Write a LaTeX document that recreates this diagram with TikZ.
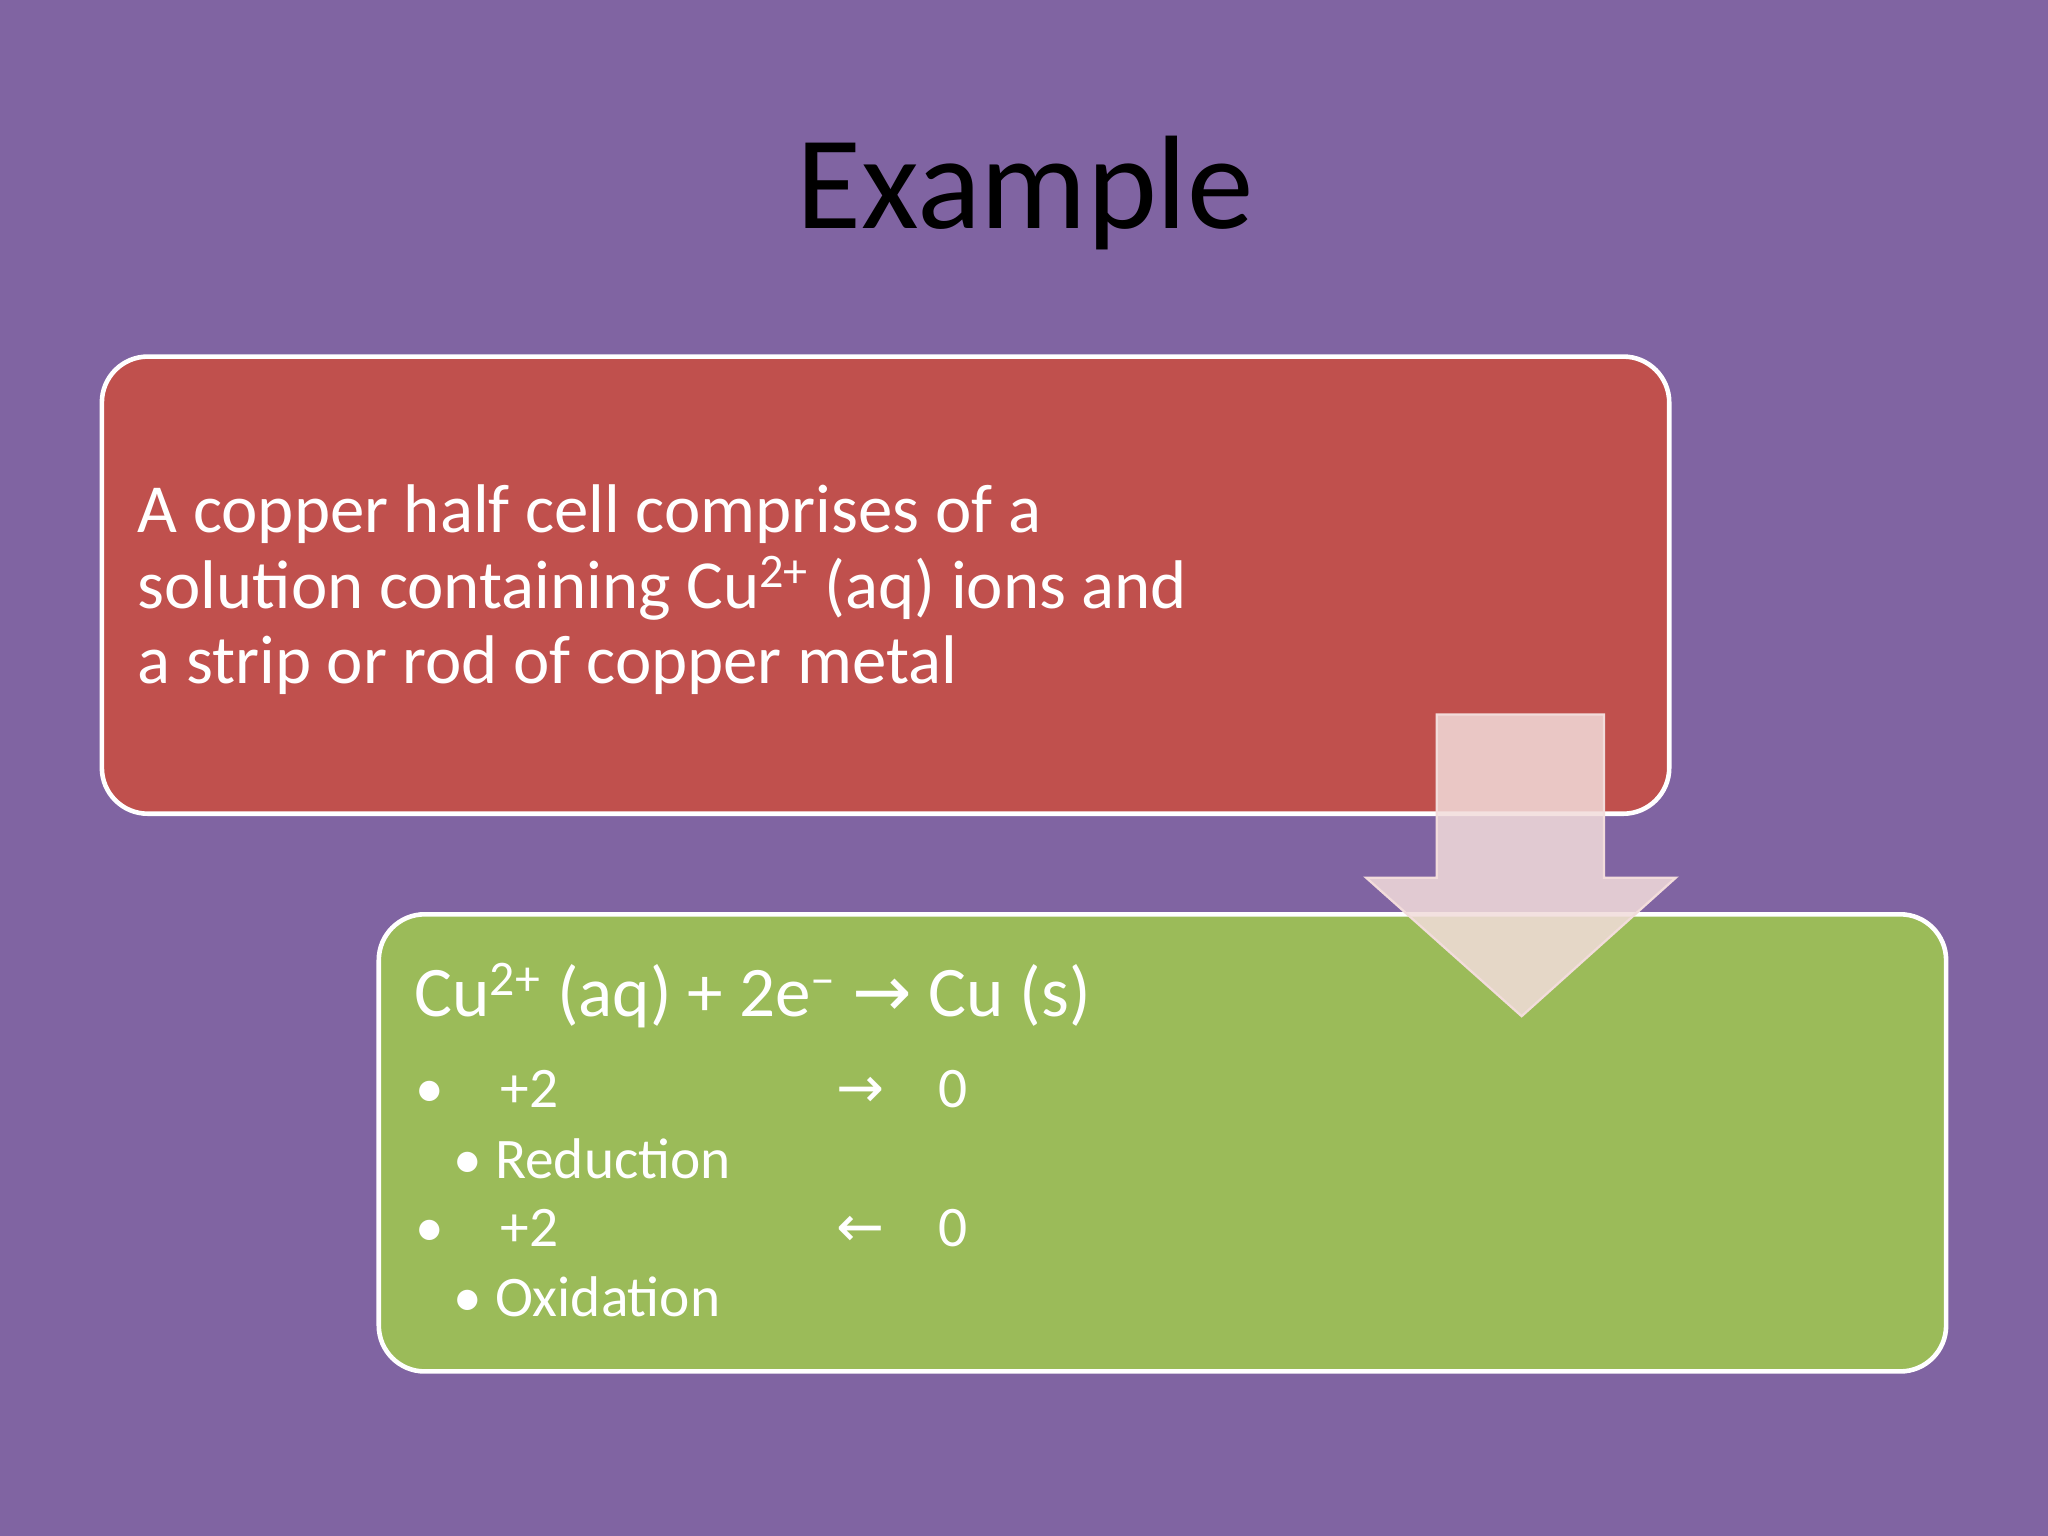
\documentclass[tikz,border=0pt]{standalone}
\usepackage{fontspec}
\setmainfont{Carlito}
\newfontfamily\symf{DejaVu Sans}
\definecolor{bgc}{HTML}{8064A2}
\definecolor{redc}{HTML}{C0504D}
\definecolor{grnc}{HTML}{9BBB59}
\definecolor{pinkc}{HTML}{F2DCDB}
\tikzset{box/.style={draw=white,line width=2pt,rounded corners=20pt},
 txt/.style={text=white,anchor=base west,inner sep=0pt},
 sm/.style={txt,font=\fontsize{25}{28}\selectfont}}
\begin{document}
\begin{tikzpicture}[x=0.02cm,y=-0.02cm]
\fill[bgc] (0,0) rectangle (1568,1176);
\useasboundingbox (0,0) rectangle (1568,1176);
\node[inner sep=0pt,font=\fontsize{58}{62}\selectfont] (title) at (785,148) {Example};
\draw[box,fill=redc] (78,273) rectangle (1278,623);
\node[txt,font=\fontsize{30}{33}\selectfont,align=left] (t1) at (105,408) {A copper half cell comprises of a};
\node[txt,font=\fontsize{30}{33}\selectfont] (t2) at (105,466) {solution containing Cu\textsuperscript{2+} (aq) ions and};
\node[txt,font=\fontsize{30}{33}\selectfont] (t3) at (105,523) {a strip or rod of copper metal};
\draw[box,fill=grnc] (290,700) rectangle (1490,1050);
\node[txt,font=\fontsize{31}{34}\selectfont] (eq) at (317,778) {Cu\textsuperscript{2+} (aq) + 2e\textsuperscript{–} {\symf →} Cu (s)};
\node[sm] (b1) at (318,848) {•};
\node[sm] (p1) at (383,848) {+2};
\node[sm] (a1) at (640,848) {\symf →};
\node[sm] (z1) at (718,848) {0};
\node[sm] (r1) at (347,902) {• Reduction};
\node[sm] (b2) at (318,954) {•};
\node[sm] (p2) at (383,954) {+2};
\node[sm] (a2) at (640,954) {\symf ←};
\node[sm] (z2) at (718,954) {0};
\node[sm] (r2) at (347,1008) {• Oxidation};
\draw[draw=pinkc,line width=1pt,fill=pinkc,fill opacity=0.85]
 (1100,547) -- (1228,547) -- (1228,672) -- (1283,672) -- (1165,778) -- (1046,672) -- (1100,672) -- cycle;
\end{tikzpicture}
\end{document}
